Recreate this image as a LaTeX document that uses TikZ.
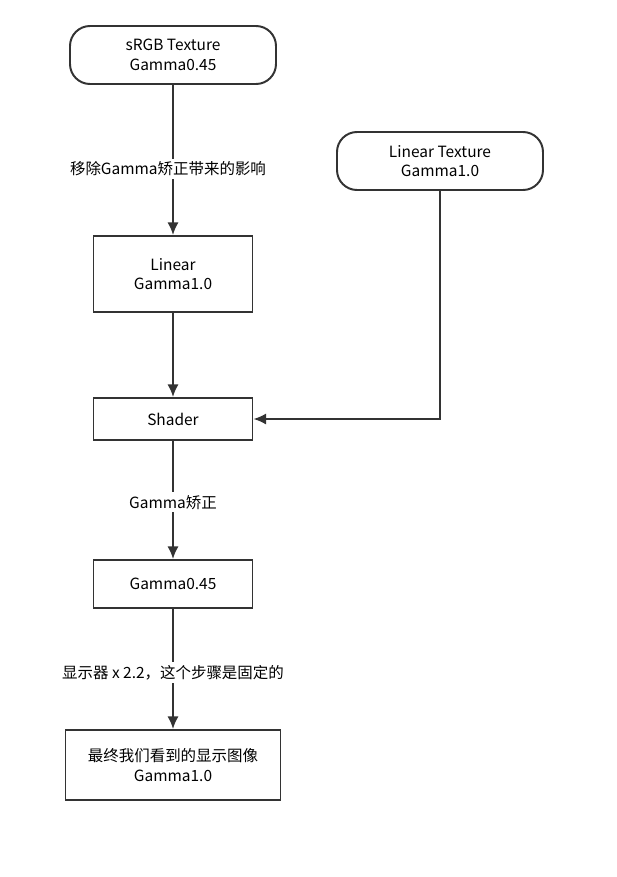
\documentclass[tikz,border=0pt]{standalone}
\usepackage{fontspec}
\setmainfont{Noto Sans CJK SC}
\usetikzlibrary{arrows.meta}
\definecolor{linegray}{RGB}{51,51,51}
\tikzset{
  box/.style={draw=linegray, line width=1.4pt, minimum width=159*0.025cm, align=center, font=\fontsize{11}{14}\selectfont},
  term/.style={box, rounded corners=0.5cm, minimum width=206*0.025cm, minimum height=58*0.025cm},
  flow/.style={draw=linegray, line width=1.4pt, -{Latex[length=9pt,width=8pt]}},
  lbl/.style={fill=white, font=\fontsize{11}{14}\selectfont, inner sep=2pt}
}
\begin{document}
\begin{tikzpicture}[x=0.025cm, y=-0.025cm]
	\useasboundingbox[fill=white] (0,0) rectangle (617,877);
	\node[term] (srgb) at (173,55) {sRGB Texture\\Gamma0.45};
	\node[term] (lintex) at (440,161) {Linear Texture\\Gamma1.0};
	\node[box, minimum height=76*0.025cm] (linear) at (173,274) {Linear\\Gamma1.0};
	\node[box, minimum height=42*0.025cm] (shader) at (173,419) {Shader};
	\node[box, minimum height=48*0.025cm] (gamma) at (173,584) {Gamma0.45};
	\node[box, minimum width=215*0.025cm, minimum height=70*0.025cm] (final) at (173,765) {最终我们看到的显示图像\\Gamma1.0};
	\draw[flow] (srgb) -- node[lbl, pos=0.56, xshift=-5*0.025cm] {移除Gamma矫正带来的影响} (linear);
	\draw[flow] (linear) -- (shader);
	\draw[flow] (lintex) |- (shader);
	\draw[flow] (shader) -- node[lbl, pos=0.52] {Gamma矫正} (gamma);
	\draw[flow] (gamma) -- node[lbl, pos=0.53] {显示器 x 2.2，这个步骤是固定的} (final);
\end{tikzpicture}
\end{document}
